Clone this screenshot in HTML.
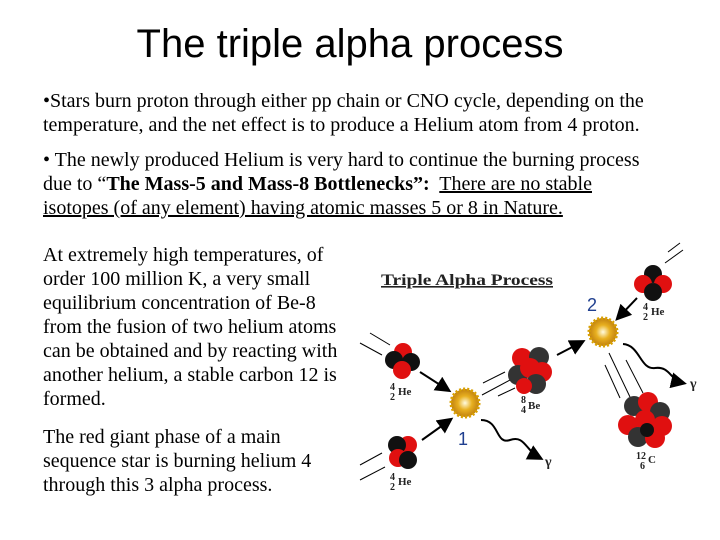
<!DOCTYPE html>
<html><head><meta charset="utf-8"><style>
body{margin:0;width:720px;height:540px;background:#fff;position:relative;overflow:hidden;font-family:"Liberation Serif",serif;color:#000}
.t{position:absolute;white-space:nowrap;font-size:20px;line-height:24px}
h1{position:absolute;left:0;width:700px;text-align:center;top:22px;margin:0;font:40px "Liberation Sans",sans-serif}
u{text-decoration:underline}
</style></head><body>
<h1>The triple alpha process</h1>
<div class="t" style="left:43px;top:89px">•Stars burn proton through either pp chain or CNO cycle, depending on the</div>
<div class="t" style="left:43px;top:113px">temperature, and the net effect is to produce a Helium atom from 4 proton.</div>
<div class="t" style="left:43px;top:148px">• The newly produced Helium is very hard to continue the burning process</div>
<div class="t" style="left:43px;top:172px">due to “<b>The Mass-5 and Mass-8 Bottlenecks”:</b>&nbsp; <u>There are no stable</u></div>
<div class="t" style="left:43px;top:196px"><u>isotopes (of any element) having atomic masses 5 or 8 in Nature.</u></div>
<div class="t" style="left:43px;top:243px">At extremely high temperatures, of</div>
<div class="t" style="left:43px;top:267px">order 100 million K, a very small</div>
<div class="t" style="left:43px;top:291px">equilibrium concentration of Be-8</div>
<div class="t" style="left:43px;top:315px">from the fusion of two helium atoms</div>
<div class="t" style="left:43px;top:339px">can be obtained and by reacting with</div>
<div class="t" style="left:43px;top:363px">another helium, a stable carbon 12 is</div>
<div class="t" style="left:43px;top:387px">formed.</div>
<div class="t" style="left:43px;top:425px">The red giant phase of a main</div>
<div class="t" style="left:43px;top:449px">sequence star is burning helium 4</div>
<div class="t" style="left:43px;top:473px">through this 3 alpha process.</div>
<svg width="720" height="540" style="position:absolute;left:0;top:0">
<defs>
<marker id="a" markerWidth="8" markerHeight="8" refX="6" refY="4" orient="auto"><path d="M0,0L8,4L0,8z" fill="#000"/></marker>
<radialGradient id="b"><stop offset="0" stop-color="#fffbe0"/><stop offset="0.5" stop-color="#e8b020"/><stop offset="1" stop-color="#c08010"/></radialGradient>
</defs>
<text x="381" y="285" textLength="172" lengthAdjust="spacingAndGlyphs" font-family="Liberation Serif,serif" font-weight="bold" font-size="16" text-decoration="underline" fill="#222">Triple Alpha Process</text>
<g stroke="#000" stroke-width="1">
<line x1="370" y1="333" x2="390" y2="345"/><line x1="360" y1="343" x2="382" y2="355"/>
<line x1="360" y1="465" x2="382" y2="453"/><line x1="360" y1="480" x2="385" y2="467"/>
<line x1="483" y1="383" x2="505" y2="372"/><line x1="482" y1="395" x2="510" y2="380"/><line x1="498" y1="396" x2="515" y2="388"/>
<line x1="668" y1="252" x2="680" y2="243"/><line x1="665" y1="263" x2="683" y2="250"/>
<line x1="609" y1="353" x2="630" y2="397"/><line x1="605" y1="365" x2="620" y2="398"/><line x1="626" y1="360" x2="643" y2="393"/>
</g>
<g stroke="#000" stroke-width="2" fill="none" marker-end="url(#a)">
<line x1="420" y1="372" x2="448" y2="390"/>
<line x1="422" y1="440" x2="450" y2="420"/>
<line x1="557" y1="355" x2="582" y2="342"/>
<line x1="637" y1="298" x2="618" y2="318"/>
<path d="M481,420 C500,420 495,445 510,440 S525,450 540,458"/>
<path d="M623,344 C640,345 640,370 655,368 S670,380 683,383"/>
</g>
<g>
<circle cx="465" cy="403" r="14" fill="url(#b)" stroke="#d8a000" stroke-dasharray="2 2" stroke-width="3"/>
<circle cx="603" cy="332" r="14" fill="url(#b)" stroke="#d8a000" stroke-dasharray="2 2" stroke-width="3"/>
</g>
<g><circle cx="403" cy="352" r="9" fill="#e01010"/><circle cx="411" cy="362" r="9" fill="#111"/><circle cx="394" cy="360" r="9" fill="#111"/><circle cx="402" cy="370" r="9" fill="#e01010"/></g>
<g><circle cx="408" cy="445" r="9" fill="#e01010"/><circle cx="397" cy="445" r="9" fill="#111"/><circle cx="398" cy="458" r="9" fill="#e01010"/><circle cx="408" cy="460" r="9" fill="#111"/></g>
<g><circle cx="653" cy="274" r="9" fill="#111"/><circle cx="643" cy="284" r="9" fill="#e01010"/><circle cx="663" cy="284" r="9" fill="#e01010"/><circle cx="653" cy="292" r="9" fill="#111"/></g>
<g><circle cx="522" cy="358" r="10" fill="#e01010"/><circle cx="539" cy="357" r="10" fill="#333"/><circle cx="518" cy="375" r="10" fill="#333"/><circle cx="542" cy="372" r="10" fill="#e01010"/><circle cx="530" cy="368" r="10" fill="#e01010"/><circle cx="536" cy="384" r="10" fill="#333"/><circle cx="524" cy="386" r="8" fill="#e01010"/></g>
<g><circle cx="634" cy="406" r="10" fill="#333"/><circle cx="648" cy="402" r="10" fill="#e01010"/><circle cx="660" cy="412" r="10" fill="#333"/><circle cx="628" cy="425" r="10" fill="#e01010"/><circle cx="662" cy="426" r="10" fill="#e01010"/><circle cx="645" cy="420" r="10" fill="#e01010"/><circle cx="638" cy="437" r="10" fill="#333"/><circle cx="655" cy="438" r="10" fill="#e01010"/><circle cx="647" cy="430" r="7" fill="#111"/></g>
<g font-family="Liberation Serif,serif" font-weight="bold" font-size="10" fill="#222">
<text x="390" y="390">4</text><text x="390" y="400">2</text><text x="398" y="395" font-size="11">He</text>
<text x="390" y="480">4</text><text x="390" y="490">2</text><text x="398" y="485" font-size="11">He</text>
<text x="643" y="310">4</text><text x="643" y="320">2</text><text x="651" y="315" font-size="11">He</text>
<text x="521" y="403">8</text><text x="521" y="413">4</text><text x="528" y="409" font-size="11">Be</text>
<text x="636" y="459">12</text><text x="640" y="469">6</text><text x="648" y="463" font-size="11">C</text>
<text x="545" y="466" font-size="14">γ</text><text x="690" y="388" font-size="14">γ</text>
</g>
<text x="458" y="445" font-family="Liberation Sans,sans-serif" font-size="18" fill="#1f3f8f">1</text>
<text x="587" y="311" font-family="Liberation Sans,sans-serif" font-size="18" fill="#1f3f8f">2</text>
</svg>
</body></html>
